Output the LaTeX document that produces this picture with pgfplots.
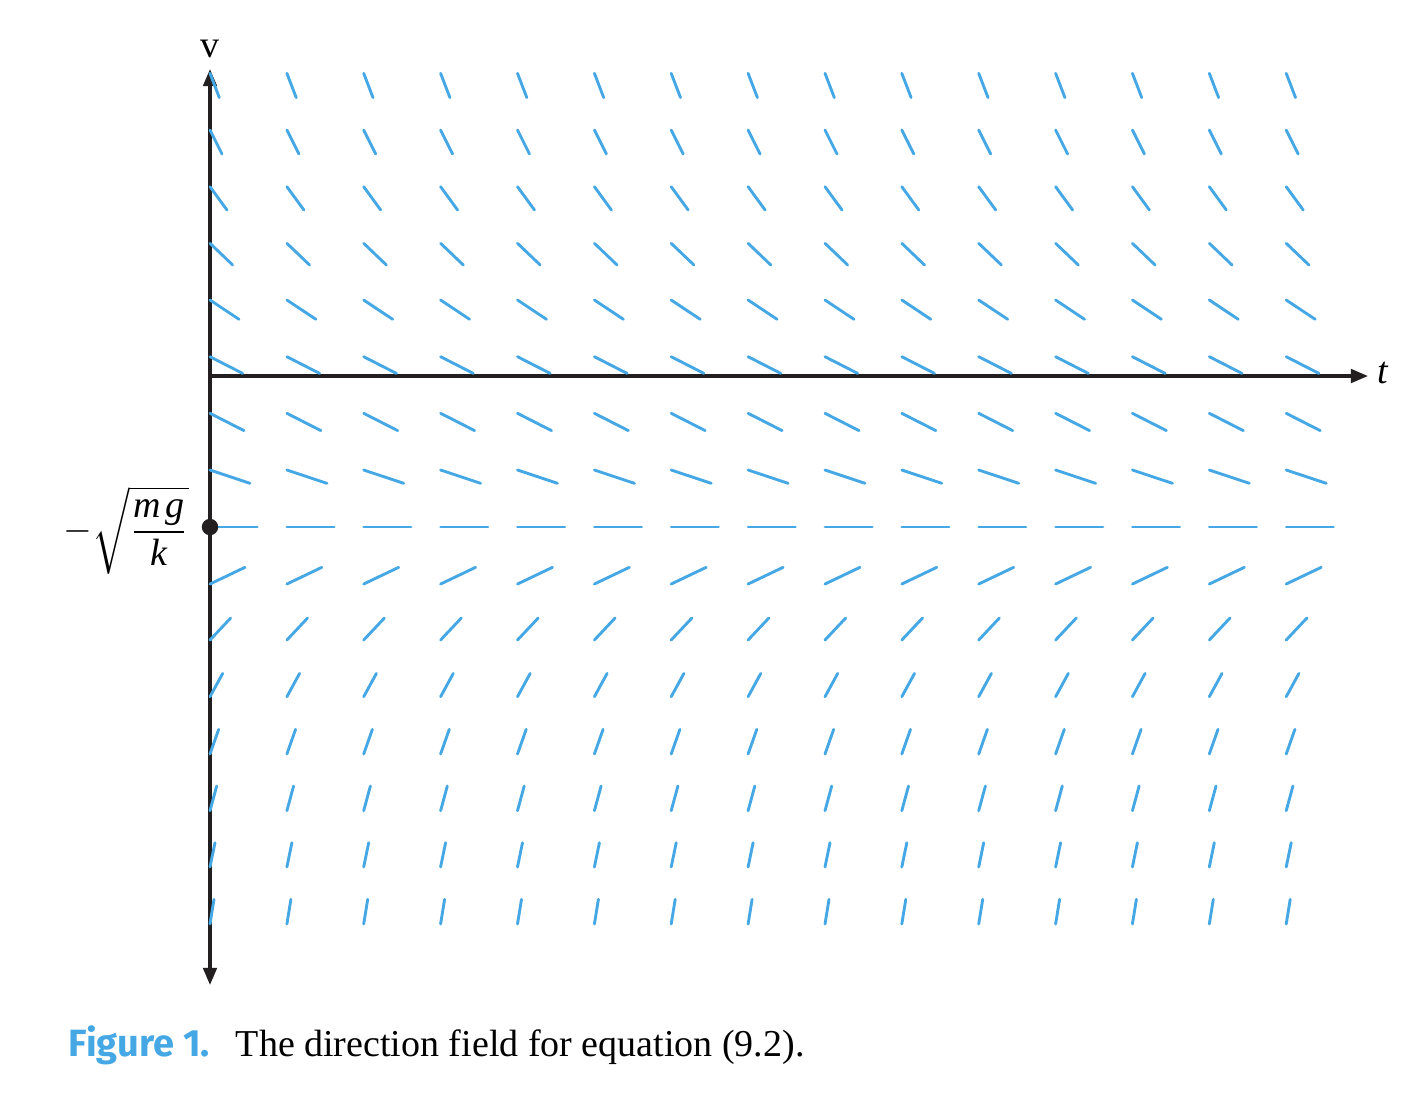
\documentclass[border=0pt]{standalone}
\usepackage{amsmath}
\usepackage{fontspec}
\setmainfont{Liberation Serif}
\newfontfamily\figfont{Fira Sans}
\usepackage{pgfplots}
\usepackage{pgfplotstable}
\pgfplotsset{compat=1.18}
\usetikzlibrary{arrows.meta}
\definecolor{fieldblue}{HTML}{45A8E4}
\definecolor{axisblack}{HTML}{231F20}

\pgfplotstableread{
x y u v
0.0 302.7 9.3 -24.3
76.9 302.7 9.3 -24.3
153.7 302.7 9.3 -24.3
230.6 302.7 9.3 -24.3
307.5 302.7 9.3 -24.3
384.4 302.7 9.3 -24.3
461.2 302.7 9.3 -24.3
538.1 302.7 9.3 -24.3
615.0 302.7 9.3 -24.3
691.8 302.7 9.3 -24.3
768.7 302.7 9.3 -24.3
845.6 302.7 9.3 -24.3
922.4 302.7 9.3 -24.3
999.3 302.7 9.3 -24.3
1076.2 302.7 9.3 -24.3
0.0 246.0 12.0 -24.0
76.9 246.0 12.0 -24.0
153.7 246.0 12.0 -24.0
230.6 246.0 12.0 -24.0
307.5 246.0 12.0 -24.0
384.4 246.0 12.0 -24.0
461.2 246.0 12.0 -24.0
538.1 246.0 12.0 -24.0
615.0 246.0 12.0 -24.0
691.8 246.0 12.0 -24.0
768.7 246.0 12.0 -24.0
845.6 246.0 12.0 -24.0
922.4 246.0 12.0 -24.0
999.3 246.0 12.0 -24.0
1076.2 246.0 12.0 -24.0
0.0 189.3 17.0 -23.3
76.9 189.3 17.0 -23.3
153.7 189.3 17.0 -23.3
230.6 189.3 17.0 -23.3
307.5 189.3 17.0 -23.3
384.4 189.3 17.0 -23.3
461.2 189.3 17.0 -23.3
538.1 189.3 17.0 -23.3
615.0 189.3 17.0 -23.3
691.8 189.3 17.0 -23.3
768.7 189.3 17.0 -23.3
845.6 189.3 17.0 -23.3
922.4 189.3 17.0 -23.3
999.3 189.3 17.0 -23.3
1076.2 189.3 17.0 -23.3
0.0 132.7 22.7 -21.7
76.9 132.7 22.7 -21.7
153.7 132.7 22.7 -21.7
230.6 132.7 22.7 -21.7
307.5 132.7 22.7 -21.7
384.4 132.7 22.7 -21.7
461.2 132.7 22.7 -21.7
538.1 132.7 22.7 -21.7
615.0 132.7 22.7 -21.7
691.8 132.7 22.7 -21.7
768.7 132.7 22.7 -21.7
845.6 132.7 22.7 -21.7
922.4 132.7 22.7 -21.7
999.3 132.7 22.7 -21.7
1076.2 132.7 22.7 -21.7
0.0 76.0 29.0 -19.3
76.9 76.0 29.0 -19.3
153.7 76.0 29.0 -19.3
230.6 76.0 29.0 -19.3
307.5 76.0 29.0 -19.3
384.4 76.0 29.0 -19.3
461.2 76.0 29.0 -19.3
538.1 76.0 29.0 -19.3
615.0 76.0 29.0 -19.3
691.8 76.0 29.0 -19.3
768.7 76.0 29.0 -19.3
845.6 76.0 29.0 -19.3
922.4 76.0 29.0 -19.3
999.3 76.0 29.0 -19.3
1076.2 76.0 29.0 -19.3
0.0 19.3 32.7 -16.7
76.9 19.3 32.7 -16.7
153.7 19.3 32.7 -16.7
230.6 19.3 32.7 -16.7
307.5 19.3 32.7 -16.7
384.4 19.3 32.7 -16.7
461.2 19.3 32.7 -16.7
538.1 19.3 32.7 -16.7
615.0 19.3 32.7 -16.7
691.8 19.3 32.7 -16.7
768.7 19.3 32.7 -16.7
845.6 19.3 32.7 -16.7
922.4 19.3 32.7 -16.7
999.3 19.3 32.7 -16.7
1076.2 19.3 32.7 -16.7
0.0 -37.3 34.0 -17.3
76.9 -37.3 34.0 -17.3
153.7 -37.3 34.0 -17.3
230.6 -37.3 34.0 -17.3
307.5 -37.3 34.0 -17.3
384.4 -37.3 34.0 -17.3
461.2 -37.3 34.0 -17.3
538.1 -37.3 34.0 -17.3
615.0 -37.3 34.0 -17.3
691.8 -37.3 34.0 -17.3
768.7 -37.3 34.0 -17.3
845.6 -37.3 34.0 -17.3
922.4 -37.3 34.0 -17.3
999.3 -37.3 34.0 -17.3
1076.2 -37.3 34.0 -17.3
0.0 -94.0 40.0 -13.3
76.9 -94.0 40.0 -13.3
153.7 -94.0 40.0 -13.3
230.6 -94.0 40.0 -13.3
307.5 -94.0 40.0 -13.3
384.4 -94.0 40.0 -13.3
461.2 -94.0 40.0 -13.3
538.1 -94.0 40.0 -13.3
615.0 -94.0 40.0 -13.3
691.8 -94.0 40.0 -13.3
768.7 -94.0 40.0 -13.3
845.6 -94.0 40.0 -13.3
922.4 -94.0 40.0 -13.3
999.3 -94.0 40.0 -13.3
1076.2 -94.0 40.0 -13.3
0.0 -151.0 47.3 0.0
76.9 -151.0 47.3 0.0
153.7 -151.0 47.3 0.0
230.6 -151.0 47.3 0.0
307.5 -151.0 47.3 0.0
384.4 -151.0 47.3 0.0
461.2 -151.0 47.3 0.0
538.1 -151.0 47.3 0.0
615.0 -151.0 47.3 0.0
691.8 -151.0 47.3 0.0
768.7 -151.0 47.3 0.0
845.6 -151.0 47.3 0.0
922.4 -151.0 47.3 0.0
999.3 -151.0 47.3 0.0
1076.2 -151.0 47.3 0.0
0.0 -208.0 35.0 16.7
76.9 -208.0 35.0 16.7
153.7 -208.0 35.0 16.7
230.6 -208.0 35.0 16.7
307.5 -208.0 35.0 16.7
384.4 -208.0 35.0 16.7
461.2 -208.0 35.0 16.7
538.1 -208.0 35.0 16.7
615.0 -208.0 35.0 16.7
691.8 -208.0 35.0 16.7
768.7 -208.0 35.0 16.7
845.6 -208.0 35.0 16.7
922.4 -208.0 35.0 16.7
999.3 -208.0 35.0 16.7
1076.2 -208.0 35.0 16.7
0.0 -264.0 20.7 22.0
76.9 -264.0 20.7 22.0
153.7 -264.0 20.7 22.0
230.6 -264.0 20.7 22.0
307.5 -264.0 20.7 22.0
384.4 -264.0 20.7 22.0
461.2 -264.0 20.7 22.0
538.1 -264.0 20.7 22.0
615.0 -264.0 20.7 22.0
691.8 -264.0 20.7 22.0
768.7 -264.0 20.7 22.0
845.6 -264.0 20.7 22.0
922.4 -264.0 20.7 22.0
999.3 -264.0 20.7 22.0
1076.2 -264.0 20.7 22.0
0.0 -320.7 12.7 23.3
76.9 -320.7 12.7 23.3
153.7 -320.7 12.7 23.3
230.6 -320.7 12.7 23.3
307.5 -320.7 12.7 23.3
384.4 -320.7 12.7 23.3
461.2 -320.7 12.7 23.3
538.1 -320.7 12.7 23.3
615.0 -320.7 12.7 23.3
691.8 -320.7 12.7 23.3
768.7 -320.7 12.7 23.3
845.6 -320.7 12.7 23.3
922.4 -320.7 12.7 23.3
999.3 -320.7 12.7 23.3
1076.2 -320.7 12.7 23.3
0.0 -378.0 8.7 24.7
76.9 -378.0 8.7 24.7
153.7 -378.0 8.7 24.7
230.6 -378.0 8.7 24.7
307.5 -378.0 8.7 24.7
384.4 -378.0 8.7 24.7
461.2 -378.0 8.7 24.7
538.1 -378.0 8.7 24.7
615.0 -378.0 8.7 24.7
691.8 -378.0 8.7 24.7
768.7 -378.0 8.7 24.7
845.6 -378.0 8.7 24.7
922.4 -378.0 8.7 24.7
999.3 -378.0 8.7 24.7
1076.2 -378.0 8.7 24.7
0.0 -434.7 6.7 24.7
76.9 -434.7 6.7 24.7
153.7 -434.7 6.7 24.7
230.6 -434.7 6.7 24.7
307.5 -434.7 6.7 24.7
384.4 -434.7 6.7 24.7
461.2 -434.7 6.7 24.7
538.1 -434.7 6.7 24.7
615.0 -434.7 6.7 24.7
691.8 -434.7 6.7 24.7
768.7 -434.7 6.7 24.7
845.6 -434.7 6.7 24.7
922.4 -434.7 6.7 24.7
999.3 -434.7 6.7 24.7
1076.2 -434.7 6.7 24.7
0.0 -491.0 5.0 24.3
76.9 -491.0 5.0 24.3
153.7 -491.0 5.0 24.3
230.6 -491.0 5.0 24.3
307.5 -491.0 5.0 24.3
384.4 -491.0 5.0 24.3
461.2 -491.0 5.0 24.3
538.1 -491.0 5.0 24.3
615.0 -491.0 5.0 24.3
691.8 -491.0 5.0 24.3
768.7 -491.0 5.0 24.3
845.6 -491.0 5.0 24.3
922.4 -491.0 5.0 24.3
999.3 -491.0 5.0 24.3
1076.2 -491.0 5.0 24.3
0.0 -548.0 4.0 24.7
76.9 -548.0 4.0 24.7
153.7 -548.0 4.0 24.7
230.6 -548.0 4.0 24.7
307.5 -548.0 4.0 24.7
384.4 -548.0 4.0 24.7
461.2 -548.0 4.0 24.7
538.1 -548.0 4.0 24.7
615.0 -548.0 4.0 24.7
691.8 -548.0 4.0 24.7
768.7 -548.0 4.0 24.7
845.6 -548.0 4.0 24.7
922.4 -548.0 4.0 24.7
999.3 -548.0 4.0 24.7
1076.2 -548.0 4.0 24.7
}\field

\begin{document}
\fontsize{9.5}{11.4}\selectfont
\begin{tikzpicture}
\begin{axis}[
  x=0.25pt, y=0.25pt,
  xmin=0, xmax=1158, ymin=-609, ymax=307,
  axis lines*=middle,
  axis line style={line width=0.8pt, color=axisblack},
  x axis line style={-{Triangle[length=4.3pt,width=3.4pt]}},
  y axis line style={{Triangle[length=4.3pt,width=3.4pt]}-{Triangle[length=4.3pt,width=3.4pt]}},
  xtick=\empty, ytick=\empty,
  clip=false,
]
\path (axis cs:-210,376) rectangle (axis cs:1210,-720);
\addplot[draw=fieldblue, line width=0.72pt, line cap=round, -,
  quiver={u=\thisrow{u}, v=\thisrow{v}}] table[x=x, y=y] {\field};
\addplot[only marks, mark=*, mark size=1.85pt, color=axisblack] coordinates {(0,-151)};
\node[anchor=base, inner sep=0pt] at (axis cs:0,318.7) {v};
\node[anchor=base west, inner sep=0pt] at (axis cs:1167,-7) {\textit{t}};
\node[anchor=east, inner sep=0pt] at (axis cs:-20,-154) {$-\sqrt{\dfrac{\textit{m\kern1pt g}}{\textit{k}}}$};
\node[anchor=base west, inner sep=0pt, text=fieldblue] at (axis cs:-142,-680) {\figfont\bfseries Figure 1.};
\node[anchor=base west, inner sep=0pt] at (axis cs:25,-680) {The direction field for equation (9.2).};
\end{axis}
\end{tikzpicture}
\end{document}
